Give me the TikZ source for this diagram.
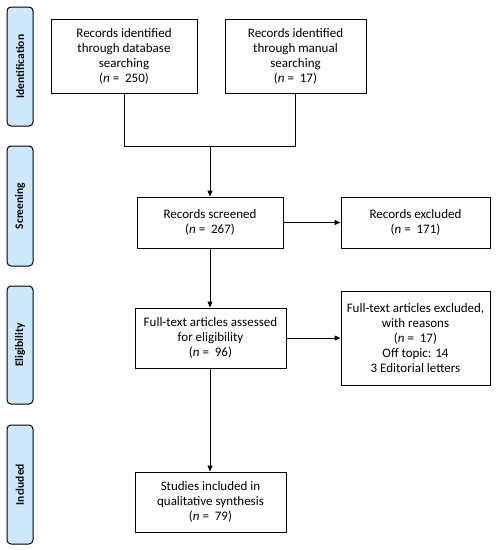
\documentclass[tikz,border=0pt]{standalone}
\usepackage{fontspec}
\setmainfont{Carlito}
\usetikzlibrary{arrows.meta}
\definecolor{phasefill}{HTML}{CDE7FB}
\begin{document}
\begin{tikzpicture}[x=1pt,y=-1pt,
  box/.style={draw=black,line width=1pt,fill=white,align=center,inner sep=2pt,font=\fontsize{13}{15}\selectfont},
  phase/.style={draw=black,line width=1pt,fill=phasefill,rounded corners=4pt,minimum width=26pt,font=\bfseries\fontsize{11.5}{13}\selectfont},
  conn/.style={line width=1pt,draw=black},
  arr/.style={conn,-{Triangle[length=6pt,width=5pt]}}]
\useasboundingbox (0,0) rectangle (500,550);
% phases
\node[phase,minimum height=119pt] (pid) at (20,66.5) {\rotatebox{90}{Identification}};
\node[phase,minimum height=120pt] (psc) at (20,206) {\rotatebox{90}{Screening}};
\node[phase,minimum height=118pt] (pel) at (20,345) {\rotatebox{90}{Eligibility}};
\node[phase,minimum height=119pt] (pin) at (20,484.5) {\rotatebox{90}{Included}};
% boxes
\node[box,minimum width=146pt,minimum height=74pt] (db) at (124,56) {Records identified\\through database\\searching\\(\textit{n} =\ \ 250)};
\node[box,minimum width=141pt,minimum height=74pt] (man) at (295.5,56) {Records identified\\through manual\\searching\\(\textit{n} =\ \ 17)};
\node[box,minimum width=146pt,minimum height=51pt] (scr) at (210,222.5) {Records screened\\(\textit{n} =\ \ 267)};
\node[box,minimum width=149pt,minimum height=51pt] (exc) at (415.5,222.5) {Records excluded\\(\textit{n} =\ \ 171)};
\node[box,minimum width=151pt,minimum height=60pt] (ft) at (210.5,338) {Full-text articles assessed\\for eligibility\\(\textit{n} =\ \ 96)};
\node[box,minimum width=149pt,minimum height=94pt] (ftx) at (415.5,338) {Full-text articles excluded,\\with reasons\\(\textit{n} =\ \ 17)\\Off topic: 14\\3 Editorial letters};
\node[box,minimum width=151pt,minimum height=60pt] (st) at (210.5,502) {Studies included in\\qualitative synthesis\\(\textit{n} =\ \ 79)};
% connectors
\coordinate (mL) at (db.south |- 0,146);
\coordinate (mR) at (man.south |- 0,146);
\coordinate (mC) at (scr.north |- 0,146);
\draw[conn] (db.south) -- (mL) -- (mR) -- (man.south);
\draw[arr] (mC) -- (scr.north);
\draw[arr] (scr.east) -- (exc.west);
\draw[arr] (scr.south) -- (scr.south |- ft.north);
\draw[arr] (ft.east) -- (ftx.west);
\draw[arr] (scr.south |- ft.south) -- (scr.south |- st.north);
\end{tikzpicture}
\end{document}
